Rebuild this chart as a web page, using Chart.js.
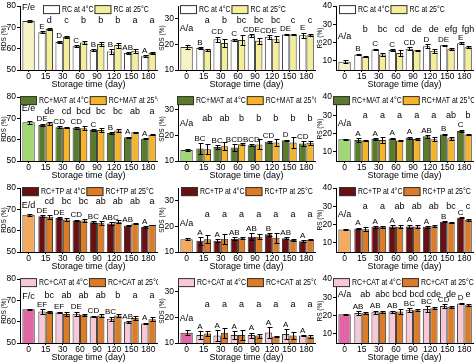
<!DOCTYPE html>
<html>
<head>
<meta charset="utf-8">
<script src="https://cdn.jsdelivr.net/npm/chart.js@4.4.1/dist/chart.umd.min.js"></script>
<style>
  body { margin: 0; background: #fff; }
  #wrap { position: relative; width: 474px; height: 363px; overflow: hidden; }
  #wrap canvas { position: absolute; }
</style>
</head>
<body>
<div id="wrap"></div>
<script>
const days = ["0", "15", "30", "60", "90", "120", "150", "180"];
const treatments = ["RC", "RC+MAT", "RC+TP", "RC+CAT"];

// day 0 values, one per treatment
const rdsDay0 = [73.0, 68.2, 67.5, 65.8];
const rdsDay0Err = [0.3, 0.8, 0.4, 0.3];
const sdsDay0 = [19.0, 14.3, 15.0, 14.0];
const sdsDay0Err = [0.8, 0.5, 0.3, 1.0];
const rsDay0 = [9.5, 16.9, 17.3, 20.7];
const rsDay0Err = [0.8, 0.3, 0.4, 0.4];
const rdsDay0Tag = ["F/e", "E/e", "E/d", "F/c"];
const sdsDay0Tag = ["A/a", "A/a", "A/a", "A/a"];
const rsDay0Tag = ["A/a", "A/a", "A/a", "A/a"];

// RC
const rdsRC4 = [67.7, 63.2, 61.4, 59.5, 58.7, 58.0, 56.5];
const rdsRC4Err = [0.5, 0.6, 0.4, 0.4, 1.2, 0.3, 0.4];
const rdsRC25 = [69.2, 65.5, 62.9, 62.2, 61.7, 59.0, 58.0];
const rdsRC25Err = [0.3, 0.4, 0.9, 1.1, 1.2, 0.8, 0.6];
const sdsRC4 = [18.6, 22.0, 21.8, 23.6, 23.0, 23.9, 23.6];
const sdsRC4Err = [0.3, 1.0, 0.5, 0.5, 0.7, 0.3, 1.0];
const sdsRC25 = [18.0, 20.6, 21.7, 21.4, 22.0, 23.9, 23.6];
const sdsRC25Err = [0.4, 1.5, 2.0, 1.2, 1.2, 0.3, 0.3];
const rsRC4 = [13.5, 16.2, 16.0, 16.7, 18.0, 18.5, 19.6];
const rsRC4Err = [0.4, 0.5, 0.4, 1.0, 1.0, 0.4, 0.6];
const rsRC25 = [12.3, 13.5, 14.3, 15.8, 15.5, 16.6, 17.5];
const rsRC25Err = [0.3, 1.0, 1.5, 0.4, 1.0, 0.5, 0.6];

// RC+MAT
const rdsMAT4 = [66.9, 65.8, 65.6, 64.6, 63.1, 61.1, 60.5];
const rdsMAT4Err = [0.6, 0.4, 0.5, 0.5, 0.5, 0.4, 0.3];
const rdsMAT25 = [67.7, 65.7, 65.4, 64.6, 64.3, 63.5, 62.3];
const rdsMAT25Err = [0.8, 0.3, 1.0, 0.8, 0.6, 0.3, 0.3];
const sdsMAT4 = [14.9, 15.5, 15.3, 16.2, 17.5, 18.1, 16.8];
const sdsMAT4Err = [2.0, 0.8, 1.3, 0.3, 0.5, 0.3, 1.0];
const sdsMAT25 = [14.6, 15.8, 16.6, 16.5, 17.2, 17.2, 17.1];
const sdsMAT25Err = [2.0, 1.5, 0.3, 2.0, 1.5, 2.0, 0.8];
const rsMAT4 = [16.5, 17.1, 17.3, 17.8, 18.5, 19.5, 21.5];
const rsMAT4Err = [1.0, 0.5, 0.5, 0.5, 0.7, 0.4, 0.7];
const rsMAT25 = [16.2, 16.5, 16.2, 17.0, 16.9, 17.4, 19.5];
const rsMAT25Err = [0.5, 1.5, 0.5, 0.7, 1.0, 1.0, 0.4];

// RC+TP
const rdsTP4 = [66.8, 66.0, 64.8, 64.0, 63.4, 62.5, 61.7];
const rdsTP4Err = [0.5, 0.5, 0.4, 0.5, 0.7, 0.4, 0.3];
const rdsTP25 = [66.5, 65.2, 64.8, 63.7, 64.2, 63.4, 62.7];
const rdsTP25Err = [1.0, 0.8, 0.8, 1.0, 0.8, 0.3, 0.2];
const sdsTP4 = [14.4, 14.4, 15.1, 16.0, 16.9, 15.4, 14.2];
const sdsTP4Err = [1.5, 0.5, 0.6, 1.5, 0.5, 0.3, 0.3];
const sdsTP25 = [15.0, 15.2, 15.4, 16.0, 15.6, 14.7, 14.8];
const sdsTP25Err = [1.5, 2.0, 0.3, 1.0, 2.0, 0.5, 0.3];
const rsTP4 = [17.9, 18.8, 19.0, 19.0, 18.8, 21.6, 23.8];
const rsTP4Err = [0.5, 0.5, 0.6, 1.0, 0.5, 0.4, 0.3];
const rsTP25 = [17.5, 18.8, 18.8, 19.0, 19.1, 21.2, 22.6];
const rsTP25Err = [1.0, 0.6, 0.8, 1.0, 0.6, 0.5, 0.4];

// RC+CAT
const rdsCAT4 = [64.8, 64.3, 63.7, 62.5, 61.4, 60.0, 59.2];
const rdsCAT4Err = [1.0, 0.4, 1.0, 0.3, 1.0, 0.4, 0.3];
const rdsCAT25 = [64.5, 63.6, 63.3, 62.9, 62.9, 61.7, 61.2];
const rdsCAT25Err = [0.5, 1.0, 0.5, 0.8, 0.5, 1.0, 1.0];
const sdsCAT4 = [13.1, 12.9, 13.1, 13.1, 14.1, 13.5, 12.9];
const sdsCAT4Err = [1.5, 2.0, 1.5, 1.0, 2.0, 2.0, 0.3];
const sdsCAT25 = [13.7, 14.0, 13.1, 12.9, 12.5, 12.9, 12.5];
const sdsCAT25Err = [0.8, 2.0, 2.0, 0.8, 0.3, 1.3, 0.5];
const rsCAT4 = [21.5, 21.8, 22.2, 23.2, 23.6, 25.3, 26.6];
const rsCAT4Err = [1.0, 1.0, 0.6, 1.0, 1.5, 1.0, 0.5];
const rsCAT25 = [21.3, 21.8, 22.3, 23.0, 24.0, 24.8, 25.7];
const rsCAT25Err = [0.5, 0.5, 1.5, 0.6, 0.6, 0.5, 0.5];

// significance letters (4°C upper case, 25°C lower case)
const rdsRCUp = ["E", "D", "C", "B", "B", "AB", "A"];
const rdsRCLo = ["d", "c", "b", "b", "b", "a", "a"];
const sdsRCUp = ["B", "CD", "C", "CDE", "CDE", "DE", "E"];
const sdsRCLo = ["a", "b", "bc", "bc", "bc", "c", "c"];
const rsRCUp = ["B", "C", "C", "CD", "D", "DE", "E"];
const rsRCLo = ["b", "bc", "cd", "de", "de", "efg", "fgh"];
const rdsMATUp = ["DE", "CD", "CD", "C", "B", "A", "A"];
const rdsMATLo = ["de", "cd", "bcd", "bc", "bc", "ab", "a"];
const sdsMATUp = ["BC", "BC", "BCD", "BCD", "CD", "D", "CD"];
const sdsMATLo = ["ab", "ab", "b", "b", "b", "b", "b"];
const rsMATUp = ["A", "A", "A", "A", "AB", "B", "C"];
const rsMATLo = ["a", "a", "a", "a", "a", "ab", "b"];
const rdsTPUp = ["DE", "DE", "CD", "BC", "ABC", "AB", "A"];
const rdsTPLo = ["cd", "bc", "bc", "ab", "ab", "ab", "a"];
const sdsTPUp = ["A", "A", "AB", "AB", "B", "AB", "A"];
const sdsTPLo = ["a", "a", "a", "a", "a", "a", "a"];
const rsTPUp = ["A", "A", "A", "A", "A", "B", "C"];
const rsTPLo = ["a", "a", "ab", "ab", "ab", "bc", "c"];
const rdsCATUp = ["EF", "EF", "DE", "CD", "BC", "AB", "A"];
const rdsCATLo = ["bc", "ab", "ab", "ab", "b", "a", "a"];
const sdsCATUp = ["A", "A", "A", "A", "A", "A", "A"];
const sdsCATLo = ["a", "a", "a", "a", "a", "a", "a"];
const rsCATUp = ["AB", "AB", "AB", "BC", "BC", "CD", "D"];
const rsCATLo = ["ab", "abc", "bcd", "bcd", "cde", "de", "e"];

const rdsTicks = [50, 60, 70, 80];
const sdsTicks = [10, 20, 30];
const rsTicks = [10, 20, 30, 40];

// layout / style
const FONT = "'Liberation Sans', Arial, sans-serif";
const col4 = ["#ffffff", "#5a7a2c", "#6a1012", "#f7c9d6"];
const col25 = ["#f3ee9a", "#f6b42a", "#dc7c26", "#dc7c26"];
const col0 = ["#f6f3c4", "#a2d874", "#f3a95e", "#e067a4"];
const rowTop = [0, 91, 182, 273];
const colLeft = [0, 158, 316];
const legendX = [[23, 2, 3], [0, -1, -3], [2, 3, 3], [0, 0, -3]];
const loY = [[14, 14, 23], [14, 21, 18], [13, 26, 18], [16, 25, 15]];
const tagY = [[1, 22, 30], [11, 26, 26], [17, 35, 26], [17, 39, 15]];
const squeeze = 0.82; // legend text is narrow in the figure

const props = [
  { name: "RDS", day0: rdsDay0, day0Err: rdsDay0Err, tag: rdsDay0Tag, min: 50, max: 80, ticks: rdsTicks,
    v4: [rdsRC4, rdsMAT4, rdsTP4, rdsCAT4], e4: [rdsRC4Err, rdsMAT4Err, rdsTP4Err, rdsCAT4Err],
    v25: [rdsRC25, rdsMAT25, rdsTP25, rdsCAT25], e25: [rdsRC25Err, rdsMAT25Err, rdsTP25Err, rdsCAT25Err],
    up: [rdsRCUp, rdsMATUp, rdsTPUp, rdsCATUp], lo: [rdsRCLo, rdsMATLo, rdsTPLo, rdsCATLo] },
  { name: "SDS", day0: sdsDay0, day0Err: sdsDay0Err, tag: sdsDay0Tag, min: 10, max: 35, ticks: sdsTicks,
    v4: [sdsRC4, sdsMAT4, sdsTP4, sdsCAT4], e4: [sdsRC4Err, sdsMAT4Err, sdsTP4Err, sdsCAT4Err],
    v25: [sdsRC25, sdsMAT25, sdsTP25, sdsCAT25], e25: [sdsRC25Err, sdsMAT25Err, sdsTP25Err, sdsCAT25Err],
    up: [sdsRCUp, sdsMATUp, sdsTPUp, sdsCATUp], lo: [sdsRCLo, sdsMATLo, sdsTPLo, sdsCATLo] },
  { name: "RS", day0: rsDay0, day0Err: rsDay0Err, tag: rsDay0Tag, min: 5, max: 40, ticks: rsTicks,
    v4: [rsRC4, rsMAT4, rsTP4, rsCAT4], e4: [rsRC4Err, rsMAT4Err, rsTP4Err, rsCAT4Err],
    v25: [rsRC25, rsMAT25, rsTP25, rsCAT25], e25: [rsRC25Err, rsMAT25Err, rsTP25Err, rsCAT25Err],
    up: [rsRCUp, rsMATUp, rsTPUp, rsCATUp], lo: [rsRCLo, rsMATLo, rsTPLo, rsCATLo] }
];

// error bars for every dataset
const errorBars = {
  id: "errorBars",
  afterDatasetsDraw(chart) {
    const ctx = chart.ctx, y = chart.scales.y;
    ctx.save();
    ctx.strokeStyle = "#000";
    ctx.lineWidth = 1;
    chart.data.datasets.forEach((ds, i) => {
      chart.getDatasetMeta(i).data.forEach((bar, j) => {
        const v = ds.data[j];
        if (v == null) return;
        const e = ds.errs[j];
        const t = Math.round(y.getPixelForValue(v + e)) + 0.5;
        const b = Math.round(y.getPixelForValue(v - e)) + 0.5;
        const x = Math.round(bar.x) + 0.5;
        ctx.beginPath();
        ctx.moveTo(x, t); ctx.lineTo(x, b);
        ctx.moveTo(x - 2, t); ctx.lineTo(x + 3, t);
        ctx.moveTo(x - 2, b); ctx.lineTo(x + 3, b);
        ctx.stroke();
      });
    });
    ctx.restore();
  }
};

function makeChart(r, c) {
  const p = props[c];
  const treat = treatments[r];
  const canvas = document.createElement("canvas");
  canvas.width = 158; canvas.height = 90;
  canvas.style.left = colLeft[c] + "px";
  canvas.style.top = rowTop[r] + "px";
  document.getElementById("wrap").appendChild(canvas);

  const d0 = [p.day0[r], null, null, null, null, null, null, null];
  const d4 = [null].concat(p.v4[r]);
  const d25 = [null].concat(p.v25[r]);
  const up = p.up[r], lo = p.lo[r];

  const notes = {
    id: "notes",
    afterDraw(chart) {
      const ctx = chart.ctx, y = chart.scales.y, area = chart.chartArea;
      const m0 = chart.getDatasetMeta(0).data, m4 = chart.getDatasetMeta(1).data, m25 = chart.getDatasetMeta(2).data;
      ctx.save();
      ctx.fillStyle = "#000";
      ctx.textAlign = "center";
      // upper case letters above the 4°C bars
      ctx.font = "8px " + FONT;
      ctx.textBaseline = "bottom";
      for (let j = 1; j < days.length; j++) {
        const top = y.getPixelForValue(d4[j] + p.e4[r][j - 1]);
        ctx.fillText(up[j - 1], m4[j].x, top - 0.5);
      }
      // lower case letters in a row
      ctx.font = "9px " + FONT;
      ctx.textBaseline = "middle";
      for (let j = 1; j < days.length; j++) {
        ctx.fillText(lo[j - 1], m25[j].x, area.top + loY[r][c]);
      }
      ctx.fillText(p.tag[r], m0[0].x, area.top + tagY[r][c]);
      // legend
      ctx.font = "8.5px " + FONT;
      ctx.textAlign = "left";
      let x = area.left + legendX[r][c];
      const by = area.top - 1;
      [[col4[r], treat + " at 4°C"], [col25[r], treat + " at 25°C"]].forEach(([fill, txt]) => {
        ctx.fillStyle = fill;
        ctx.fillRect(x, by, 17, 9);
        ctx.strokeStyle = "#333";
        ctx.lineWidth = 1;
        ctx.strokeRect(x + 0.5, by + 0.5, 16, 8);
        ctx.fillStyle = "#000";
        ctx.save();
        ctx.translate(x + 19, by + 5);
        ctx.scale(squeeze, 1);
        ctx.fillText(txt, 0, 0);
        ctx.restore();
        x += 19 + ctx.measureText(txt).width * squeeze + 1;
      });
      ctx.restore();
    }
  };

  new Chart(canvas, {
    type: "bar",
    data: {
      labels: days,
      datasets: [
        { data: d0, errs: [p.day0Err[r]], backgroundColor: col0[r], borderColor: "#333", borderWidth: 1,
          barPercentage: 0.85, categoryPercentage: 0.85, skipNull: true },
        { data: d4, errs: [0].concat(p.e4[r]), backgroundColor: col4[r], borderColor: "#333", borderWidth: 1,
          barPercentage: 1, categoryPercentage: 0.86, skipNull: true },
        { data: d25, errs: [0].concat(p.e25[r]), backgroundColor: col25[r], borderColor: "#333", borderWidth: 1,
          barPercentage: 1, categoryPercentage: 0.86, skipNull: true }
      ]
    },
    options: {
      responsive: false,
      animation: false,
      devicePixelRatio: 1,
      layout: { padding: { top: 3, right: 1, left: 0, bottom: 0 } },
      plugins: { legend: { display: false }, tooltip: { enabled: false } },
      scales: {
        x: {
          grid: { display: true, drawOnChartArea: false, drawTicks: true, tickLength: 2, color: "#000", offset: false },
          border: { display: true, color: "#000", width: 1 },
          ticks: { color: "#000", font: { size: 8.5, family: FONT }, padding: 0, maxRotation: 0, autoSkip: false },
          title: { display: true, text: "Storage time (day)", color: "#000", font: { size: 9, family: FONT }, padding: 0 },
          afterFit(s) { s.height = 20; }
        },
        y: {
          min: p.min, max: p.max,
          afterBuildTicks(s) { s.ticks = p.ticks.map(v => ({ value: v })); },
          grid: { display: true, drawOnChartArea: false, drawTicks: true, tickLength: 3, color: "#000" },
          border: { display: true, color: "#000", width: 1 },
          ticks: { color: "#000", font: { size: 8.5, family: FONT }, padding: 1 },
          title: { display: true, text: p.name + " (%)", color: "#000", font: { size: 6.5, family: FONT }, padding: 0 },
          afterFit(s) { s.width = 20; }
        }
      }
    },
    plugins: [errorBars, notes]
  });
}

for (let r = 0; r < 4; r++) {
  for (let c = 0; c < 3; c++) makeChart(r, c);
}
</script>
</body>
</html>
